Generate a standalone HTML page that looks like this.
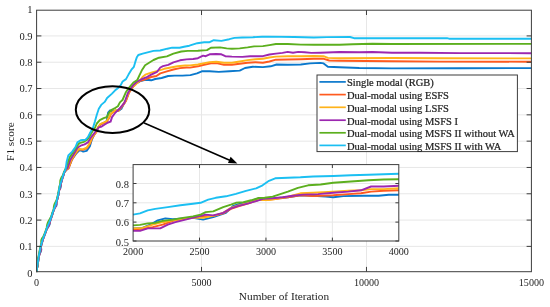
<!DOCTYPE html>
<html><head><meta charset="utf-8"><title>F1 score</title>
<style>html,body{margin:0;padding:0;background:#fff}svg{display:block}text{font-family:"Liberation Serif",serif;fill:#1c1c1c}</style></head><body>
<svg width="550" height="307" viewBox="0 0 550 307">
<rect width="550" height="307" fill="#fff"/>
<g stroke="#e7e7e7" stroke-width="1"><line x1="36.6" x2="531.4" y1="246.39" y2="246.39"/><line x1="36.6" x2="531.4" y1="220.08" y2="220.08"/><line x1="36.6" x2="531.4" y1="193.77" y2="193.77"/><line x1="36.6" x2="531.4" y1="167.46" y2="167.46"/><line x1="36.6" x2="531.4" y1="141.15" y2="141.15"/><line x1="36.6" x2="531.4" y1="114.84" y2="114.84"/><line x1="36.6" x2="531.4" y1="88.53" y2="88.53"/><line x1="36.6" x2="531.4" y1="62.22" y2="62.22"/><line x1="36.6" x2="531.4" y1="35.91" y2="35.91"/><line y1="10.2" y2="271.7" x1="201.53" x2="201.53"/><line y1="10.2" y2="271.7" x1="366.47" x2="366.47"/></g>
<clipPath id="pc"><rect x="36.6" y="10.2" width="494.8" height="262.1"/></clipPath>
<g fill="none" stroke-width="1.9" stroke-linejoin="round" stroke-linecap="round" clip-path="url(#pc)">
<polyline stroke="#0A78CC" points="36.6,271.7 38.3,259.0 37.5,266.9 37.7,265.4 37.9,263.8 38.1,262.2 38.3,260.6 38.5,259.0 38.8,257.4 39.1,255.8 39.5,254.3 40.3,252.7 41.0,251.1 41.3,249.6 41.1,248.0 41.0,246.4 41.4,244.8 41.9,243.2 42.3,241.6 42.8,240.0 43.4,238.3 44.0,236.7 44.6,235.0 45.3,233.2 46.0,231.3 46.6,229.5 47.7,227.7 48.8,226.1 49.6,224.6 49.9,223.0 50.1,221.5 50.5,219.9 51.1,218.3 51.6,216.7 52.1,215.2 52.6,213.6 53.1,212.0 53.7,210.5 54.2,209.0 55.1,207.4 56.3,205.9 56.7,204.4 56.5,202.9 56.8,201.3 57.2,199.7 57.6,198.2 58.0,196.6 58.4,195.0 58.6,193.4 59.0,191.7 59.2,190.1 60.3,188.4 60.8,186.8 60.9,185.2 60.8,183.7 61.3,182.1 61.8,180.6 62.2,179.0 62.8,177.3 63.3,175.7 63.8,174.1 64.3,172.4 66.8,169.3 68.6,168.0 71.8,159.8 76.1,153.6 80.0,149.8 83.3,151.6 86.6,150.9 89.8,146.4 91.8,139.8 94.4,134.2 96.4,131.5 98.0,127.8 100.5,124.4 103.7,122.8 106.6,121.3 108.1,112.7 110.1,110.3 112.0,111.2 115.5,110.6 119.4,110.3 121.4,108.8 123.2,105.0 125.0,102.0 126.0,100.0 128.7,92.8 131.6,88.0 135.6,84.0 140.5,81.0 145.4,79.8 151.3,80.3 155.2,79.0 161.6,78.0 168.2,76.0 174.7,75.6 182.6,75.6 190.4,75.1 197.0,73.4 201.8,71.3 209.6,71.3 218.8,71.9 229.3,71.3 239.7,70.6 245.0,68.0 252.8,66.7 262.9,67.1 270.7,66.3 276.6,64.5 287.7,64.7 300.8,64.5 310.0,63.4 320.4,62.9 323.6,63.4 327.9,66.7 339.6,67.3 359.3,68.0 392.0,68.4 460.0,68.2 531.4,68.1"/>
<polyline stroke="#FF5A1F" points="36.6,271.7 38.3,259.0 37.5,266.9 37.7,265.4 37.9,263.8 38.1,262.2 38.3,260.6 38.5,259.0 38.8,257.4 39.1,255.8 39.5,254.3 40.0,252.7 40.5,251.1 40.8,249.6 40.9,248.0 41.0,246.4 41.4,244.8 41.9,243.2 42.3,241.6 42.8,240.0 43.4,238.3 44.0,236.7 44.6,235.0 45.3,233.2 46.0,231.3 46.6,229.5 47.5,227.7 48.4,226.1 49.1,224.6 49.6,223.0 50.0,221.5 50.5,219.9 51.1,218.3 51.6,216.7 52.1,215.2 52.6,213.6 53.1,212.0 53.7,210.5 54.2,209.0 55.0,207.4 55.8,205.9 56.3,204.4 56.5,202.9 56.8,201.3 57.2,199.7 57.6,198.2 58.0,196.6 58.4,195.0 58.6,193.4 59.0,191.7 59.2,190.1 59.9,188.4 60.3,186.8 60.6,185.2 60.8,183.7 61.3,182.1 61.8,180.6 62.2,179.0 62.8,177.3 63.3,175.7 63.8,174.1 64.3,172.4 66.6,169.7 68.6,168.4 71.8,159.9 75.8,153.3 79.0,149.4 82.9,149.8 86.9,148.1 90.1,143.5 92.1,138.3 94.7,134.3 96.7,131.7 98.1,127.8 100.6,124.4 104.0,122.9 106.9,121.5 109.4,117.5 110.9,114.1 113.3,112.1 115.8,110.7 118.7,110.7 120.7,108.2 123.1,105.3 125.1,102.3 126.2,100.4 129.0,93.0 131.9,88.1 135.6,83.7 140.5,80.8 145.4,79.3 151.2,77.0 156.4,76.0 160.3,73.4 166.9,71.4 173.4,69.5 180.0,68.1 186.5,67.5 190.0,67.6 197.9,66.3 203.1,65.0 210.9,63.4 217.5,63.4 224.0,64.7 231.9,64.7 239.7,63.7 247.6,62.8 255.4,62.3 262.9,62.8 269.4,61.5 275.9,59.7 287.7,59.5 300.8,59.2 313.9,58.8 323.9,58.8 329.2,60.5 339.6,60.8 392.0,61.3 440.0,61.6 531.4,61.7"/>
<polyline stroke="#FFB31A" points="36.6,271.7 38.3,259.0 40.7,246.4 42.5,240.0 44.4,235.0 47.0,227.7 50.3,219.9 52.9,212.0 56.2,202.9 58.1,195.0 59.6,186.8 62.0,179.0 64.1,172.4 66.3,169.3 68.3,168.0 71.5,159.5 75.5,152.9 78.7,149.0 82.6,149.4 86.6,147.7 89.8,143.1 91.8,137.9 94.4,133.9 96.4,131.3 97.8,127.4 100.3,124.0 103.7,122.5 106.6,121.1 109.1,117.1 110.6,113.7 113.0,111.7 115.5,110.3 118.4,110.3 120.4,107.8 122.8,104.9 124.8,101.9 125.9,100.0 128.7,92.6 131.6,87.7 135.6,84.7 140.5,79.8 142.5,77.0 145.3,74.7 151.2,72.7 157.7,70.8 164.3,68.8 170.8,67.5 177.4,66.2 185.2,65.5 190.0,65.4 197.9,64.5 203.1,63.4 209.6,62.1 216.2,61.8 224.0,62.8 231.9,62.8 239.7,61.5 247.6,60.1 255.4,59.2 262.9,58.8 269.4,57.5 275.9,56.6 287.7,56.2 300.8,56.2 313.9,56.0 323.5,56.2 327.9,57.9 339.6,58.2 392.0,58.0 440.0,58.3 531.4,58.4"/>
<polyline stroke="#9C27B0" points="36.6,271.7 38.3,259.0 37.5,266.9 37.7,265.4 37.9,263.8 38.1,262.2 38.3,260.6 38.5,259.0 38.8,257.4 39.1,255.8 39.5,254.3 40.0,252.7 40.4,251.1 40.7,249.6 40.8,248.0 41.0,246.4 41.4,244.8 41.9,243.2 42.3,241.6 42.8,240.0 43.4,238.3 44.0,236.7 44.6,235.0 45.3,233.2 46.0,231.3 46.6,229.5 47.4,227.7 48.3,226.1 49.0,224.6 49.5,223.0 50.0,221.5 50.5,219.9 51.1,218.3 51.6,216.7 52.1,215.2 52.6,213.6 53.1,212.0 53.7,210.5 54.2,209.0 54.9,207.4 55.7,205.9 56.2,204.4 56.5,202.9 56.8,201.3 57.2,199.7 57.6,198.2 58.0,196.6 58.4,195.0 58.6,193.4 59.0,191.7 59.2,190.1 59.8,188.4 60.2,186.8 60.6,185.2 60.8,183.7 61.3,182.1 61.8,180.6 62.2,179.0 62.8,177.3 63.3,175.7 63.8,174.1 64.3,172.4 66.0,169.3 67.6,168.0 70.2,160.1 74.1,153.6 77.4,147.7 80.7,145.7 84.6,144.4 87.9,142.4 90.5,137.9 93.8,133.9 95.7,131.3 98.8,127.4 101.7,126.5 104.7,124.5 108.1,122.5 110.6,121.6 112.0,117.1 114.5,113.7 116.9,111.2 119.4,108.8 121.9,105.9 124.3,102.9 125.4,100.0 127.7,93.6 130.6,88.6 133.6,84.7 137.5,81.3 142.4,78.8 147.3,76.9 151.2,74.7 157.1,71.8 160.3,67.5 163.0,66.2 168.2,64.9 173.4,62.3 180.0,60.3 186.5,59.4 193.1,59.0 197.9,58.2 203.1,55.6 205.7,56.2 209.6,54.3 216.2,54.0 221.4,54.3 225.3,56.2 231.9,56.6 242.4,56.9 250.2,56.2 262.9,56.2 269.4,54.5 275.9,53.6 282.5,52.9 287.7,51.9 293.0,52.7 298.2,51.9 304.7,52.3 311.3,52.9 320.4,52.7 339.6,52.0 359.3,52.3 372.4,52.0 392.0,52.7 420.0,52.7 460.0,53.1 531.4,53.2"/>
<polyline stroke="#5CAF1E" points="36.6,271.7 38.3,259.0 37.0,266.9 37.2,265.4 37.4,263.8 37.6,262.2 37.8,260.6 38.0,259.0 38.3,257.4 38.6,255.8 39.0,254.3 39.2,252.7 39.5,251.1 39.9,249.6 40.2,248.0 40.5,246.4 40.9,244.8 41.4,243.2 41.2,241.6 41.3,240.0 42.0,238.3 43.2,236.7 44.1,235.0 44.8,233.2 45.5,231.3 46.1,229.5 46.7,227.7 46.9,226.1 47.2,224.6 47.7,223.0 48.4,221.5 49.3,219.9 50.2,218.3 51.1,216.7 51.6,215.2 52.1,213.6 52.6,212.0 53.2,210.5 53.7,209.0 53.8,207.4 54.0,205.9 54.4,204.4 55.1,202.9 55.9,201.3 56.7,199.7 57.1,198.2 57.5,196.6 57.9,195.0 58.1,193.4 58.5,191.7 58.8,190.1 59.1,188.4 59.4,186.8 59.8,185.2 60.2,183.7 60.2,182.1 60.3,180.6 60.8,179.0 61.5,177.3 62.6,175.7 63.3,174.1 63.8,172.4 65.4,169.3 66.9,165.3 69.6,157.5 73.5,151.6 76.8,146.4 79.4,143.1 84.0,141.8 87.2,139.8 89.8,135.9 92.5,131.3 94.9,128.0 96.8,123.5 99.8,120.1 103.7,118.1 106.6,117.1 109.1,112.7 111.6,109.8 115.5,107.8 117.9,106.3 119.9,102.4 122.5,100.0 125.7,92.6 128.2,88.8 130.4,86.0 133.4,82.5 137.3,80.0 139.3,75.6 142.2,69.7 145.1,65.3 149.1,62.7 153.5,60.0 159.0,57.7 166.9,56.4 173.4,53.7 181.3,51.5 187.8,50.9 197.9,50.7 207.0,50.1 210.9,47.7 220.1,47.4 226.6,48.4 231.9,48.8 239.7,48.4 247.6,47.4 254.1,46.4 262.9,46.1 269.4,45.1 275.9,44.0 287.7,44.0 300.8,44.6 313.9,44.7 327.0,44.8 339.6,44.8 352.7,44.2 372.4,43.8 392.0,44.0 531.4,43.9"/>
<polyline stroke="#1BBFF2" points="36.6,271.7 38.3,259.0 40.7,246.4 42.5,240.0 44.4,235.0 47.0,227.7 50.3,219.9 52.9,212.0 56.2,202.9 58.1,195.0 59.6,186.8 62.0,179.0 64.1,172.4 65.6,169.3 66.7,161.4 68.3,155.5 72.2,151.6 75.5,147.0 77.4,142.4 80.7,140.2 85.3,139.8 87.9,137.2 89.8,133.3 91.8,130.0 92.9,128.0 94.9,121.6 96.8,114.7 98.8,108.8 101.2,104.9 104.7,101.9 107.1,98.0 112.0,93.6 114.9,90.6 118.4,87.7 120.6,85.4 122.6,81.5 126.0,79.1 128.5,74.6 131.4,69.7 133.9,66.8 135.3,61.9 136.7,57.6 138.3,55.0 142.7,53.7 147.6,52.4 153.5,50.9 160.2,50.5 167.3,48.7 172.2,47.6 179.6,47.8 184.0,46.8 189.4,45.7 197.3,43.2 204.2,42.3 209.1,42.3 213.8,40.2 221.4,40.9 229.3,39.2 234.5,37.9 242.4,37.5 252.8,37.2 262.0,36.7 268.1,36.6 294.3,37.0 313.9,37.5 327.0,37.1 350.1,37.0 354.0,38.2 392.0,38.2 447.0,38.1 449.0,38.7 531.4,38.7"/>
</g>
<g stroke="#3c3c3c" stroke-width="1"><line x1="36.6" x2="41.4" y1="246.39" y2="246.39"/><line x1="531.4" x2="526.6" y1="246.39" y2="246.39"/><line x1="36.6" x2="41.4" y1="220.08" y2="220.08"/><line x1="531.4" x2="526.6" y1="220.08" y2="220.08"/><line x1="36.6" x2="41.4" y1="193.77" y2="193.77"/><line x1="531.4" x2="526.6" y1="193.77" y2="193.77"/><line x1="36.6" x2="41.4" y1="167.46" y2="167.46"/><line x1="531.4" x2="526.6" y1="167.46" y2="167.46"/><line x1="36.6" x2="41.4" y1="141.15" y2="141.15"/><line x1="531.4" x2="526.6" y1="141.15" y2="141.15"/><line x1="36.6" x2="41.4" y1="114.84" y2="114.84"/><line x1="531.4" x2="526.6" y1="114.84" y2="114.84"/><line x1="36.6" x2="41.4" y1="88.53" y2="88.53"/><line x1="531.4" x2="526.6" y1="88.53" y2="88.53"/><line x1="36.6" x2="41.4" y1="62.22" y2="62.22"/><line x1="531.4" x2="526.6" y1="62.22" y2="62.22"/><line x1="36.6" x2="41.4" y1="35.91" y2="35.91"/><line x1="531.4" x2="526.6" y1="35.91" y2="35.91"/><line y1="271.7" y2="266.9" x1="201.53" x2="201.53"/><line y1="10.2" y2="15.0" x1="201.53" x2="201.53"/><line y1="271.7" y2="266.9" x1="366.47" x2="366.47"/><line y1="10.2" y2="15.0" x1="366.47" x2="366.47"/><rect x="36.6" y="10.2" width="494.8" height="261.5" fill="none"/></g>
<g font-size="10.5" text-anchor="end">
<text x="32.6" y="276.8">0</text>
<text x="32.6" y="250.2">0.1</text>
<text x="32.6" y="223.9">0.2</text>
<text x="32.6" y="197.6">0.3</text>
<text x="32.6" y="171.3">0.4</text>
<text x="32.6" y="145.0">0.5</text>
<text x="32.6" y="118.7">0.6</text>
<text x="32.6" y="92.4">0.7</text>
<text x="32.6" y="66.1">0.8</text>
<text x="32.6" y="39.8">0.9</text>
<text x="32.6" y="13.4">1</text>
</g>
<g font-size="10.1" text-anchor="middle">
<text x="36.6" y="286.0">0</text>
<text x="201.5" y="286.0">5000</text>
<text x="366.5" y="286.0">10000</text>
<text x="531.4" y="286.0">15000</text>
</g>
<text x="284" y="300.4" font-size="11.3" text-anchor="middle">Number of Iteration</text>
<text transform="translate(13.5,141.6) rotate(-90)" font-size="11.3" text-anchor="middle">F1 score</text>
<ellipse cx="112.55" cy="109.65" rx="36.75" ry="23.35" fill="none" stroke="#000" stroke-width="2"/>
<line x1="144.2" y1="122.9" x2="232" y2="161.35" stroke="#000" stroke-width="1.6"/>
<polygon points="237.4,163.6 228,163 230.6,156.8" fill="#000"/>
<rect x="317" y="75" width="200.4" height="76.6" fill="#fff" stroke="#3c3c3c" stroke-width="1"/>
<line x1="319.4" x2="345.8" y1="81.9" y2="81.9" stroke="#0A78CC" stroke-width="1.7"/>
<text transform="translate(346.9,86.2) scale(0.9375,1)" font-size="11.2" stroke="#262626" stroke-width="0.25">Single modal (RGB)</text>
<line x1="319.4" x2="345.8" y1="94.6" y2="94.6" stroke="#FF5A1F" stroke-width="1.7"/>
<text transform="translate(346.9,98.9) scale(0.9375,1)" font-size="11.2" stroke="#262626" stroke-width="0.25">Dual-modal using ESFS</text>
<line x1="319.4" x2="345.8" y1="107.3" y2="107.3" stroke="#FFB31A" stroke-width="1.7"/>
<text transform="translate(346.9,111.6) scale(0.9375,1)" font-size="11.2" stroke="#262626" stroke-width="0.25">Dual-modal using LSFS</text>
<line x1="319.4" x2="345.8" y1="120.2" y2="120.2" stroke="#9C27B0" stroke-width="1.7"/>
<text transform="translate(346.9,124.5) scale(0.9375,1)" font-size="11.2" stroke="#262626" stroke-width="0.25">Dual-modal using MSFS I</text>
<line x1="319.4" x2="345.8" y1="132.8" y2="132.8" stroke="#5CAF1E" stroke-width="1.7"/>
<text transform="translate(346.9,137.1) scale(0.9375,1)" font-size="11.2" stroke="#262626" stroke-width="0.25">Dual-modal using MSFS II without WA</text>
<line x1="319.4" x2="345.8" y1="145.4" y2="145.4" stroke="#1BBFF2" stroke-width="1.7"/>
<text transform="translate(346.9,149.7) scale(0.9375,1)" font-size="11.2" stroke="#262626" stroke-width="0.25">Dual-modal using MSFS II with WA</text>
<rect x="133.1" y="164.6" width="265.7" height="76.4" fill="#fff"/>
<g stroke="#e7e7e7" stroke-width="1"><line x1="133.1" x2="398.8" y1="222.10" y2="222.10"/><line x1="133.1" x2="398.8" y1="202.80" y2="202.80"/><line x1="133.1" x2="398.8" y1="183.50" y2="183.50"/><line y1="164.6" y2="241.0" x1="199.53" x2="199.53"/><line y1="164.6" y2="241.0" x1="265.96" x2="265.96"/><line y1="164.6" y2="241.0" x1="332.39" x2="332.39"/></g>
<g fill="none" stroke-width="1.9" stroke-linejoin="round" stroke-linecap="butt">
<polyline stroke="#0A78CC" points="133.0,228.4 142.5,227.9 150.2,224.7 157.7,220.4 165.3,218.4 172.9,219.1 182.9,218.4 193.0,217.9 203.1,219.6 213.2,217.1 220.7,214.6 225.9,212.9 233.4,205.8 240.9,203.3 248.5,202.1 258.6,198.3 268.7,198.6 275.2,198.3 287.9,197.3 300.4,195.3 313.1,195.8 325.6,196.6 333.3,197.3 343.3,196.1 363.5,195.8 378.6,195.8 388.7,194.8 398.8,194.8"/>
<polyline stroke="#FF5A1F" points="133.0,229.2 142.5,228.9 152.7,227.2 162.7,224.7 172.9,220.9 182.9,218.9 193.0,217.4 203.1,216.4 213.2,215.9 223.2,213.4 230.9,208.9 238.4,206.3 248.5,203.3 258.6,199.8 268.7,199.6 275.2,199.1 287.9,197.3 300.4,195.3 313.1,196.1 333.3,195.3 348.3,194.1 361.0,193.3 371.1,191.6 383.7,190.8 398.8,190.3"/>
<polyline stroke="#FFB31A" points="133.0,228.4 142.5,227.9 152.7,224.7 162.7,222.2 172.9,220.4 182.9,219.1 193.0,217.9 203.1,217.9 213.2,215.9 223.2,212.9 230.9,207.8 238.4,205.3 248.5,202.8 258.6,199.8 268.7,200.0 275.2,199.1 287.9,196.6 300.4,193.3 313.1,192.8 333.3,191.6 348.3,190.8 361.0,190.3 371.1,189.1 383.7,189.1 398.8,188.3"/>
<polyline stroke="#9C27B0" points="133.0,230.9 140.0,230.9 147.7,228.4 160.2,228.4 167.8,224.7 175.4,222.2 185.5,219.6 195.5,217.1 205.7,214.6 213.2,215.4 223.2,212.9 230.9,208.4 238.4,205.8 248.5,203.3 258.6,200.3 263.6,198.7 272.7,198.3 282.8,197.3 292.9,195.8 303.0,194.6 318.1,194.1 333.3,192.8 348.3,191.6 361.0,190.3 371.1,186.5 383.7,186.5 398.8,185.8"/>
<polyline stroke="#5CAF1E" points="133.0,225.4 140.0,224.9 147.7,223.4 155.2,222.9 162.7,220.9 172.9,219.6 182.9,217.9 193.0,216.4 200.6,214.6 205.7,212.1 213.2,211.4 223.2,207.1 230.9,204.6 235.9,202.8 243.4,202.1 251.1,200.3 258.6,198.0 264.6,197.7 272.7,196.6 280.3,194.1 287.9,191.6 297.9,187.8 308.1,185.3 320.6,184.5 333.3,182.8 350.9,181.5 368.5,180.3 383.7,179.5 398.8,179.3"/>
<polyline stroke="#1BBFF2" points="133.0,214.6 140.0,213.4 147.7,210.4 155.2,208.9 167.8,207.1 180.4,205.3 193.0,203.8 200.6,202.8 208.2,199.6 215.7,197.8 225.9,196.3 235.9,193.8 246.0,190.8 256.1,188.3 262.6,185.3 269.0,180.8 275.2,178.3 287.9,177.8 300.4,177.3 313.1,176.5 333.3,176.0 350.9,175.3 368.5,174.8 383.7,174.2 398.8,173.8"/>
</g>
<g stroke="#3c3c3c" stroke-width="1"><line x1="133.1" x2="136.5" y1="241.00" y2="241.00"/><line x1="398.8" x2="395.40000000000003" y1="241.00" y2="241.00"/><line x1="133.1" x2="136.5" y1="222.10" y2="222.10"/><line x1="398.8" x2="395.40000000000003" y1="222.10" y2="222.10"/><line x1="133.1" x2="136.5" y1="202.80" y2="202.80"/><line x1="398.8" x2="395.40000000000003" y1="202.80" y2="202.80"/><line x1="133.1" x2="136.5" y1="183.50" y2="183.50"/><line x1="398.8" x2="395.40000000000003" y1="183.50" y2="183.50"/><line y1="241.0" y2="237.6" x1="199.53" x2="199.53"/><line y1="164.6" y2="168.0" x1="199.53" x2="199.53"/><line y1="241.0" y2="237.6" x1="265.96" x2="265.96"/><line y1="164.6" y2="168.0" x1="265.96" x2="265.96"/><line y1="241.0" y2="237.6" x1="332.39" x2="332.39"/><line y1="164.6" y2="168.0" x1="332.39" x2="332.39"/><rect x="133.1" y="164.6" width="265.7" height="76.4" fill="none"/></g>
<g font-size="10.5" text-anchor="end">
<text x="128.9" y="245.8">0.5</text>
<text x="128.9" y="225.7">0.6</text>
<text x="128.9" y="207.4">0.7</text>
<text x="128.9" y="188.1">0.8</text>
</g>
<g font-size="10.1" text-anchor="middle">
<text x="133.1" y="254.9">2000</text>
<text x="199.5" y="254.9">2500</text>
<text x="266.0" y="254.9">3000</text>
<text x="332.4" y="254.9">3500</text>
<text x="398.8" y="254.9">4000</text>
</g>
</svg></body></html>
